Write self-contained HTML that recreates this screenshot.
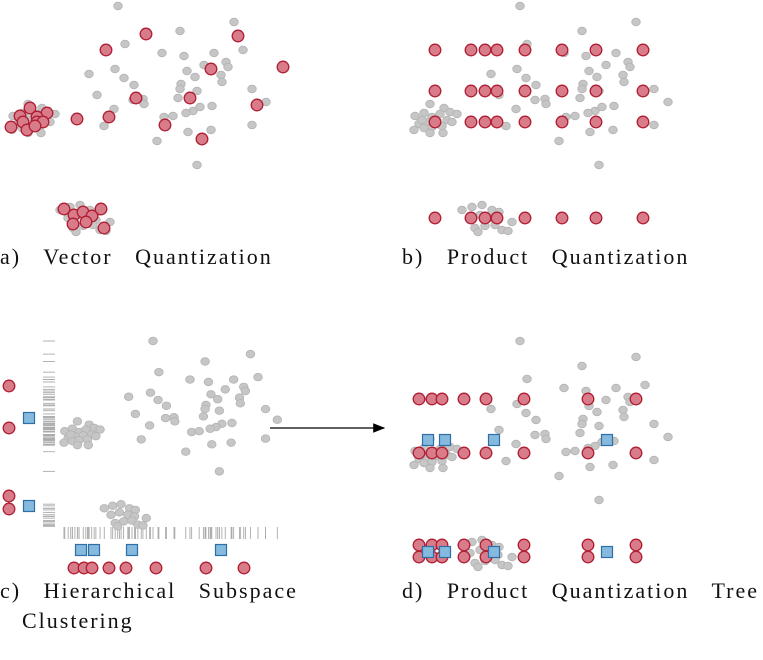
<!DOCTYPE html>
<html><head><meta charset="utf-8"><style>
html,body{margin:0;padding:0;background:#fff;width:763px;height:660px;overflow:hidden}
.lbl{position:absolute;font-family:"Liberation Serif",serif;font-size:22px;letter-spacing:2px;word-spacing:15px;color:#111;white-space:nowrap}
</style></head><body>
<svg id="fig" width="763" height="660" style="position:absolute;left:0;top:0">
<defs><marker id="ah" markerWidth="10" markerHeight="8" refX="9" refY="4" orient="auto"><path d="M0,0 L10,4 L0,8 Z" fill="#000"/></marker></defs>
<line x1="270" y1="428" x2="384" y2="428" stroke="#000" stroke-width="1.2" marker-end="url(#ah)"/>
</svg>
<div class="lbl" style="left:0;top:244px">a) Vector Quantization</div>
<div class="lbl" style="left:402px;top:244px">b) Product Quantization</div>
<div class="lbl" style="left:0;top:578px">c) Hierarchical Subspace</div>
<div class="lbl" style="left:22px;top:608px">Clustering</div>
<div class="lbl" style="left:402px;top:578px">d) Product Quantization Tree</div>
<script>
const grayX=[118,180,234,125,162,184,214,243,89,115,124,187,204,226,228,195,221,222,134,97,181,180,197,252,266,143,133,144,114,212,200,193,186,164,173,104,188,211,252,157,197,178,
28,42,13,22,30,38,48,55,17,25,35,45,50,12,22,30,40,41,28,20,
60,70,80,90,97,68,78,88,96,110,73,83,93,100,106,76];
const grayY=[6,31,22,44,53,56,53,50,74,69,78,71,65,62,67,77,75,82,85,95,84,89,91,89,102,99,100,104,109,106,107,111,113,117,116,126,132,130,125,141,165,98,
104,108,116,113,117,114,112,114,124,122,121,120,122,130,128,127,126,133,133,120,
210,207,205,210,212,218,215,218,220,222,228,226,225,230,231,232];
const vqX=[146,238,283,106,211,190,257,136,109,77,165,202,30,20,47,37,23,37,43,11,27,35,64,74,83,92,101,73,86,104];
const vqY=[34,36,67,50,69,98,105,98,117,119,125,139,108,116,113,117,122,122,122,127,130,126,209,215,212,216,209,224,222,228];
const pqCols=[435,471,485,497,525,562,596,643];
const pqRows=[50,91,122,218];
const hscLeftY=[386,428,496,509];
const hscLeftSq=[418,506];
const hscBottomX=[74,84,92,109,126,156,206,244];
const hscBottomSq=[81,94,132,221];
const pqtCols=[419,432,442,464,486,524,588,636];
const pqtRows=[399,453,545,557];
const pqtSqX=[428,445,494,607];
const pqtSqY=[440,552];

const svg=document.getElementById('fig');
const NS='http://www.w3.org/2000/svg';
function mk(tag,attrs){const e=document.createElementNS(NS,tag);for(const k in attrs)e.setAttribute(k,attrs[k]);svg.appendChild(e);return e;}
function gray(x,y){const e=mk('ellipse',{cx:x,cy:y,rx:4.3,ry:3.8,fill:'#c6c6c6',stroke:'#b3b3b3','stroke-width':0.8});

}
function red(x,y){const e=mk('circle',{cx:x,cy:y,r:5.8,fill:'#d87c8a',stroke:'#b01e33','stroke-width':1.3});

}
function sq(x,y){const e=mk('rect',{x:x-5.5,y:y-5.5,width:11,height:11,fill:'#86b9de',stroke:'#2d6fa6','stroke-width':1.2});

}
function tick(x1,y1,x2,y2){const e=mk('line',{x1:x1,y1:y1,x2:x2,y2:y2,stroke:'#aaa','stroke-width':0.9});

}
grayX.forEach((x,i)=>gray(x,grayY[i]));
vqX.forEach((x,i)=>red(x,vqY[i]));
grayX.forEach((x,i)=>gray(x+402,grayY[i]));
pqRows.forEach(y=>pqCols.forEach(x=>red(x,y)));
const cx=x=>153+0.84*(x-118), cy=y=>341+0.82*(y-6);
grayX.forEach((x,i)=>{tick(43,cy(grayY[i]),55,cy(grayY[i]));tick(cx(x),527,cx(x),539);});
grayX.forEach((x,i)=>gray(cx(x),cy(grayY[i])));
hscLeftY.forEach(y=>red(9,y));
hscLeftSq.forEach(y=>sq(29,y));
hscBottomX.forEach(x=>red(x,568));
hscBottomSq.forEach(x=>sq(x,550));
grayX.forEach((x,i)=>gray(x+402,grayY[i]+335));
pqtRows.forEach(y=>pqtCols.forEach(x=>red(x,y)));
pqtSqY.forEach(y=>pqtSqX.forEach(x=>sq(x,y)));
</script>
</body></html>
